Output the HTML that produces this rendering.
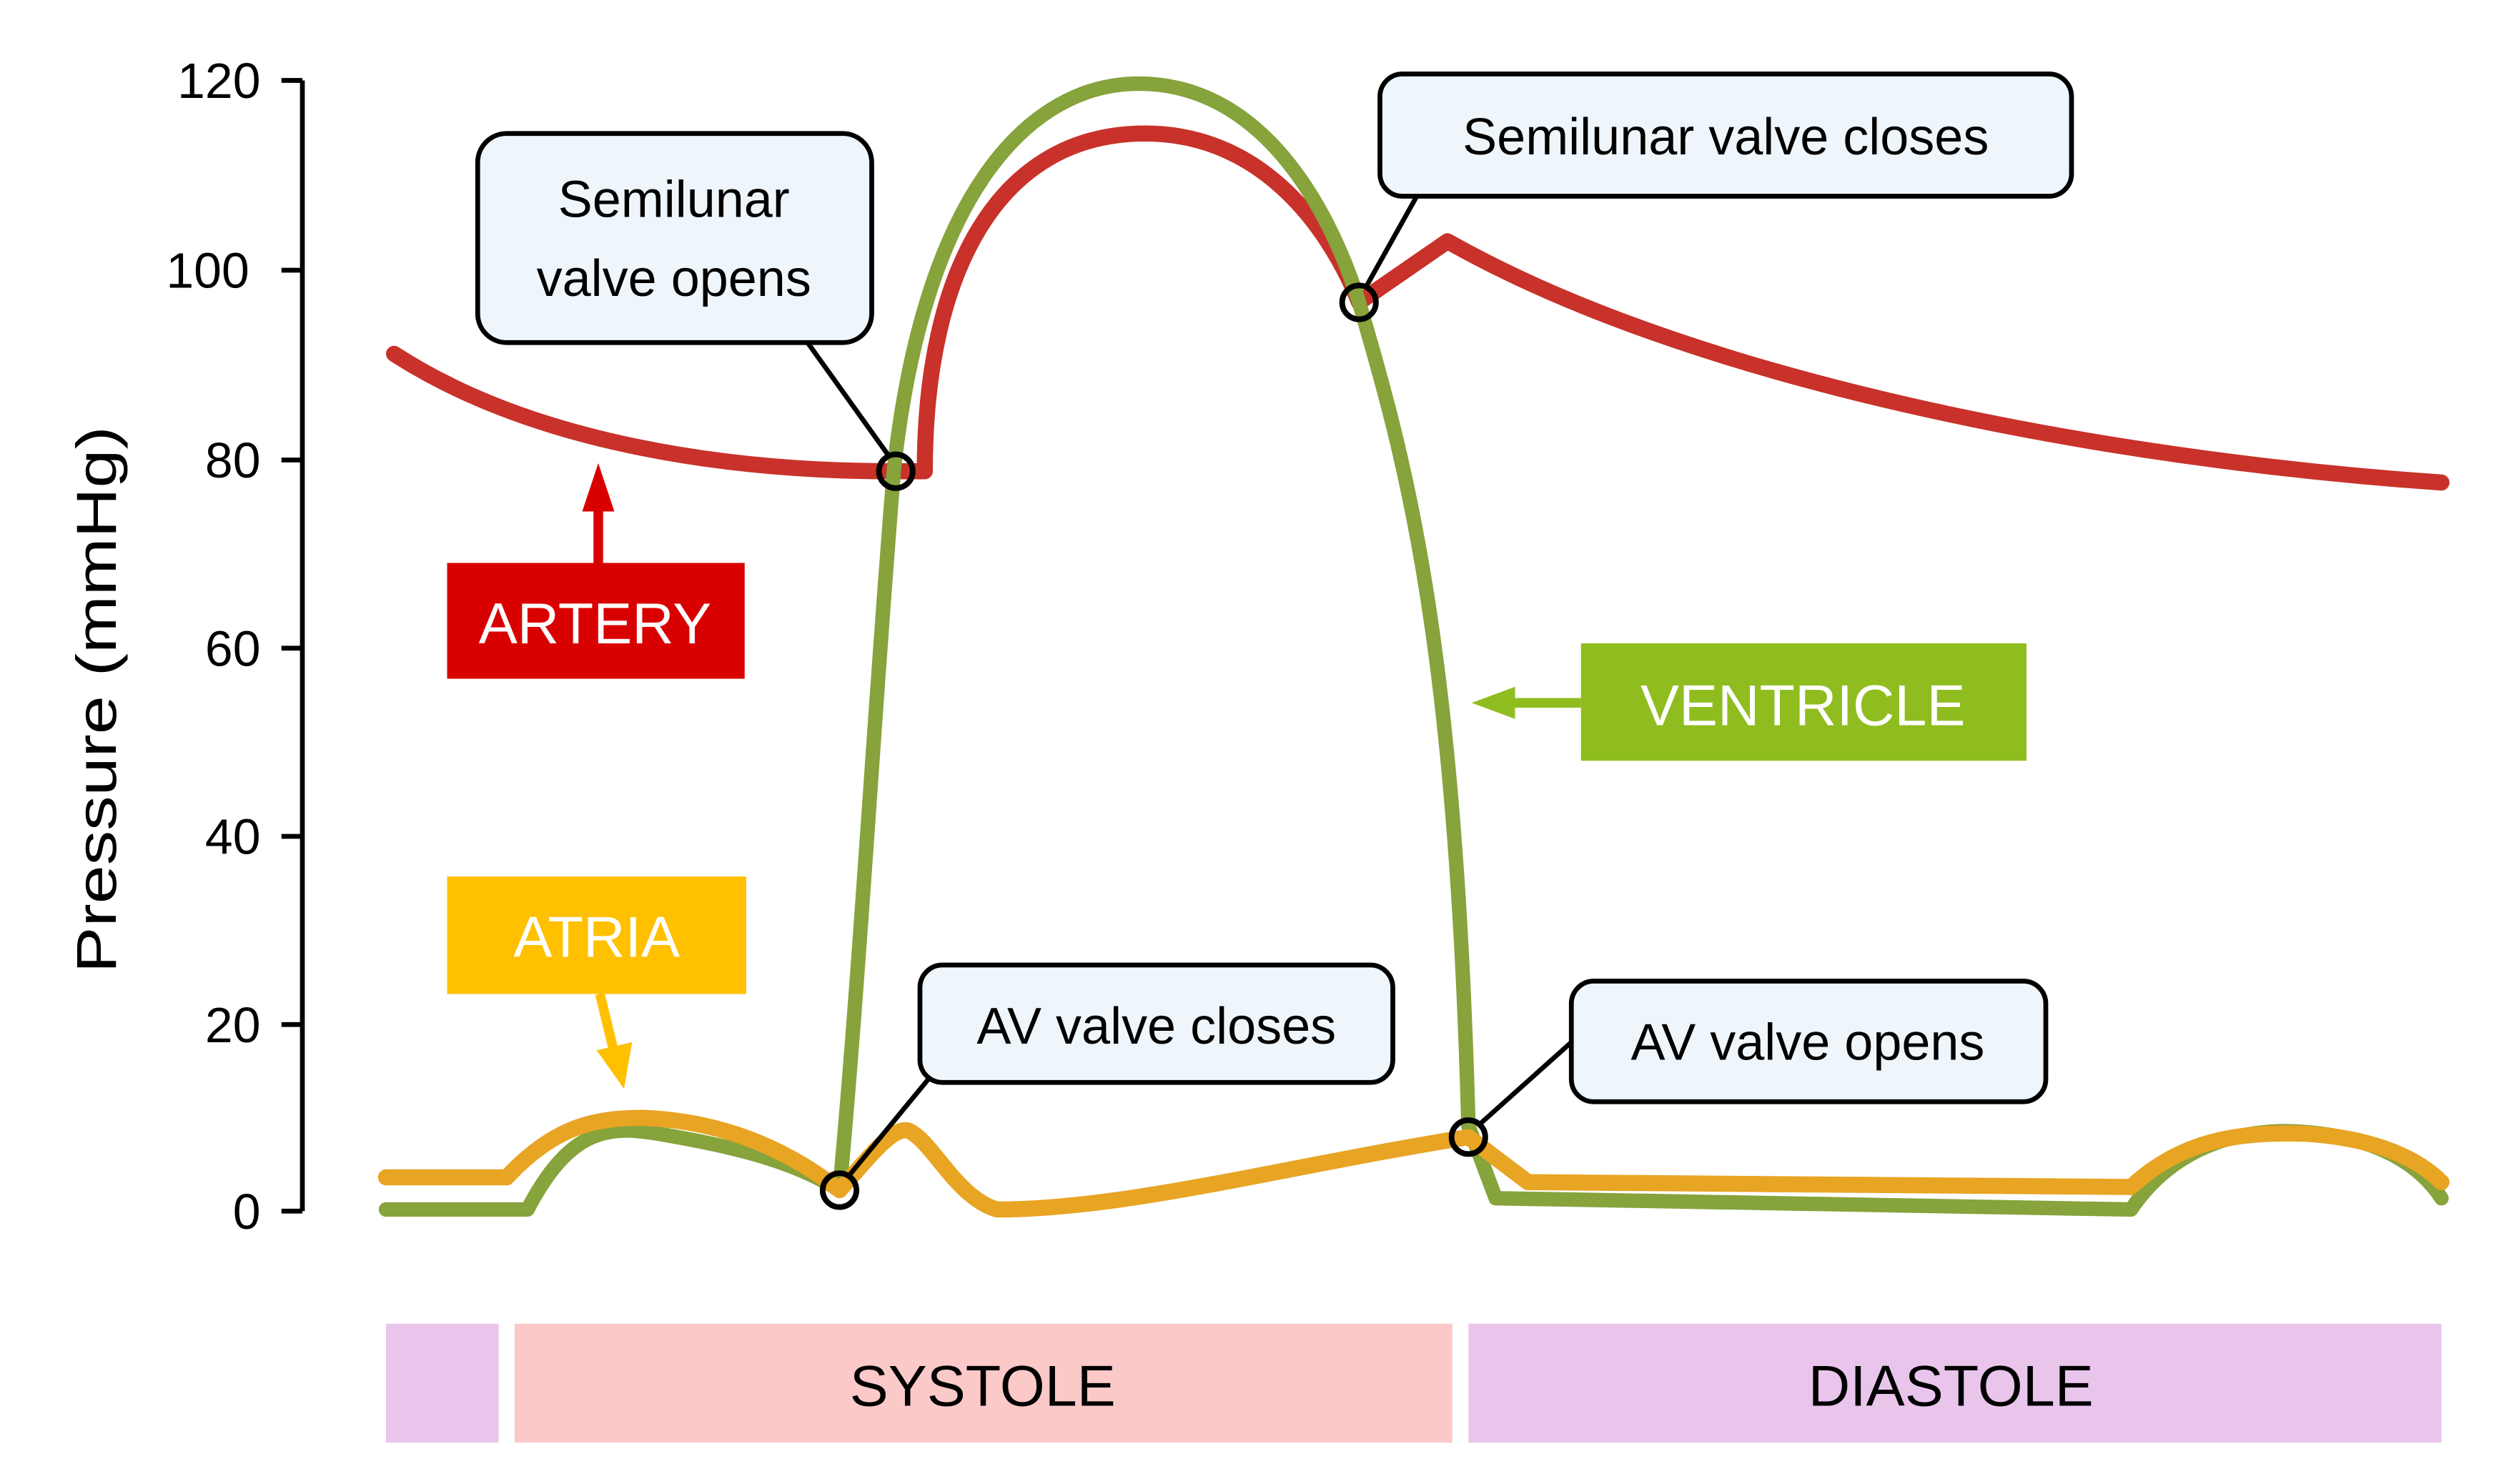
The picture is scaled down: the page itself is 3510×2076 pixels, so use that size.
<!DOCTYPE html>
<html><head><meta charset="utf-8"><style>
html,body{margin:0;padding:0;background:#fff;}
svg{display:block;}
text{font-family:"Liberation Sans",sans-serif;}
</style></head><body>
<svg width="3510" height="2076" viewBox="0 0 1560 922.67" xmlns="http://www.w3.org/2000/svg">
<g stroke="#000" stroke-width="3" fill="none">
<line x1="188" y1="50" x2="188" y2="753"/>
<line x1="175" y1="50" x2="188" y2="50"/>
<line x1="175" y1="168" x2="188" y2="168"/>
<line x1="175" y1="286" x2="188" y2="286"/>
<line x1="175" y1="403" x2="188" y2="403"/>
<line x1="175" y1="520" x2="188" y2="520"/>
<line x1="175" y1="637" x2="188" y2="637"/>
<line x1="175" y1="753" x2="188" y2="753"/>
</g>
<g font-size="31" text-anchor="end" fill="#000">
<text x="162" y="61">120</text>
<text x="155" y="179">100</text>
<text x="162" y="297">80</text>
<text x="162" y="414">60</text>
<text x="162" y="531">40</text>
<text x="162" y="648">20</text>
<text x="162" y="764">0</text>
</g>
<text x="0" y="0" font-size="35" text-anchor="middle" textLength="340" lengthAdjust="spacingAndGlyphs" transform="translate(72,435) rotate(-90)">Pressure (mmHg)</text>

<path d="M245,220 C330,275 450,293 555,293 L575,293 C575,170 620,83 712,83 C790,83 830,150 845,188 L900,150 C1050,235 1300,285 1518,300" fill="none" stroke="#c8322a" stroke-width="10" stroke-linecap="round" stroke-linejoin="round"/>
<path d="M240,752 L328,752 C355,700 380,700 410,705 C450,712 490,720 522,740 C535,600 545,420 556,290 C575,120 640,52 708,52 C790,52 830,140 845,188 C875,290 905,400 913,700 L930,745 L1325,752 C1350,715 1390,700 1435,704 C1480,708 1505,725 1518,745" fill="none" stroke="#86a33c" stroke-width="9" stroke-linecap="round" stroke-linejoin="round"/>
<path d="M240,732 L315,732 C345,700 370,695 400,695 C450,697 490,715 522,740 C540,720 555,700 565,703 C580,710 595,745 620,752 C700,752 800,725 913,707 L950,735 L1325,738 C1355,710 1390,703 1435,705 C1480,708 1505,722 1518,735" fill="none" stroke="#e8a423" stroke-width="10" stroke-linecap="round" stroke-linejoin="round"/>

<g stroke="#000" stroke-width="3">
<line x1="500" y1="210" x2="553" y2="284"/>
<line x1="882" y1="120" x2="849" y2="179"/>
<line x1="578" y1="670" x2="527" y2="732"/>
<line x1="977" y1="648" x2="920" y2="699"/>
</g>
<g fill="none" stroke="#000" stroke-width="3.5">
<circle cx="557" cy="293" r="10.5"/>
<circle cx="845" cy="188" r="10.5"/>
<circle cx="522" cy="740" r="10.5"/>
<circle cx="913" cy="707" r="10.5"/>
</g>

<g fill="#eef6fc" stroke="#000" stroke-width="3">
<rect x="297" y="83" width="245" height="130" rx="18"/>
<rect x="858" y="46" width="430" height="76" rx="14"/>
<rect x="572" y="600" width="294" height="73" rx="14"/>
<rect x="977" y="610" width="295" height="75" rx="14"/>
</g>
<g font-size="32" text-anchor="middle" fill="#000">
<text x="419" y="135">Semilunar</text>
<text x="419" y="184">valve opens</text>
<text x="1073" y="96">Semilunar valve closes</text>
<text x="719" y="649">AV valve closes</text>
<text x="1124" y="659">AV valve opens</text>
</g>

<rect x="278" y="350" width="185" height="72" fill="#d90000"/>
<text x="370" y="400" font-size="36" fill="#fff" text-anchor="middle">ARTERY</text>
<line x1="372" y1="350" x2="372" y2="312" stroke="#d90000" stroke-width="6"/>
<polygon points="372,288 362,318 382,318" fill="#d90000"/>

<rect x="983" y="400" width="277" height="73" fill="#8fbd1f"/>
<text x="1121" y="451" font-size="36" fill="#fff" text-anchor="middle">VENTRICLE</text>
<line x1="983" y1="437" x2="938" y2="437" stroke="#8fbd1f" stroke-width="6"/>
<polygon points="915,437 942,427 942,447" fill="#8fbd1f"/>

<rect x="278" y="545" width="186" height="73" fill="#ffc000"/>
<text x="371" y="595" font-size="36" fill="#fff" text-anchor="middle">ATRIA</text>
<line x1="373" y1="618" x2="382" y2="655" stroke="#ffc000" stroke-width="6"/>
<polygon points="388,677 371,653 393,648" fill="#ffc000"/>

<rect x="240" y="823" width="70" height="74" fill="#e9c5ec"/>
<rect x="320" y="823" width="583" height="74" fill="#fcc9c9"/>
<rect x="913" y="823" width="605" height="74" fill="#e9c5ec"/>
<text x="611" y="874" font-size="36" text-anchor="middle">SYSTOLE</text>
<text x="1213" y="874" font-size="36" text-anchor="middle">DIASTOLE</text>
</svg>
</body></html>
